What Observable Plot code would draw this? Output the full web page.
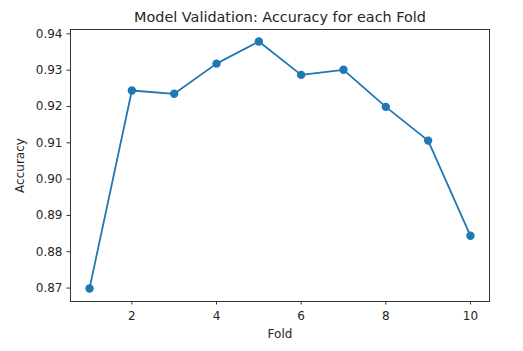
<!DOCTYPE html>
<html>
<head>
<meta charset="utf-8">
<script src="https://cdn.jsdelivr.net/npm/d3@7"></script>
<script src="https://cdn.jsdelivr.net/npm/@observablehq/plot@0.6"></script>
<style>
  html, body { margin: 0; padding: 0; background: #fff; }
  #chart svg { display: block; }
</style>
</head>
<body>
<div id="chart"></div>
<script>
const folds = [1, 2, 3, 4, 5, 6, 7, 8, 9, 10];
const accuracy = [0.8699, 0.9244, 0.9235, 0.9318, 0.9379, 0.9287, 0.9301, 0.9199, 0.9106, 0.8844];
const xTicks = [2, 4, 6, 8, 10];
const yTicks = [0.87, 0.88, 0.89, 0.90, 0.91, 0.92, 0.93, 0.94];
const title = "Model Validation: Accuracy for each Fold";
const xLabel = "Fold";
const yLabel = "Accuracy";

const data = folds.map((f, i) => ({fold: f, acc: accuracy[i]}));
const blue = "#1f77b4";
const ink = "#262626";

const chart = Plot.plot({
  width: 523,
  height: 351,
  marginLeft: 70,
  marginRight: 34,
  marginTop: 29,
  marginBottom: 50,
  style: {fontFamily: "DejaVu Sans", fontSize: "12px", color: ink, background: "#fff"},
  x: {domain: [0.55, 10.45]},
  y: {domain: [0.8663, 0.9412]},
  marks: [
    Plot.frame({stroke: "#333", strokeWidth: 1}),
    Plot.axisX({ticks: xTicks, tickSize: 3.5, tickPadding: 6, tickFormat: d3.format("d"), label: null, stroke: "#333"}),
    Plot.axisY({ticks: yTicks, tickSize: 3.5, tickPadding: 4.5, tickFormat: d3.format(".2f"), label: null, stroke: "#333"}),
    Plot.line(data, {x: "fold", y: "acc", stroke: blue, strokeWidth: 1.8}),
    Plot.dot(data, {x: "fold", y: "acc", fill: blue, r: 4.2}),
    Plot.text([title], {frameAnchor: "top", dy: -12, textAnchor: "middle", lineAnchor: "middle", fontSize: 14.4, fill: ink}),
    Plot.text([xLabel], {frameAnchor: "bottom", dy: 33, textAnchor: "middle", lineAnchor: "middle", fontSize: 12, fill: ink}),
    Plot.text([yLabel], {frameAnchor: "left", dx: -50, rotate: -90, textAnchor: "middle", lineAnchor: "middle", fontSize: 12, fill: ink})
  ]
});
document.getElementById("chart").appendChild(chart);
</script>
</body>
</html>
